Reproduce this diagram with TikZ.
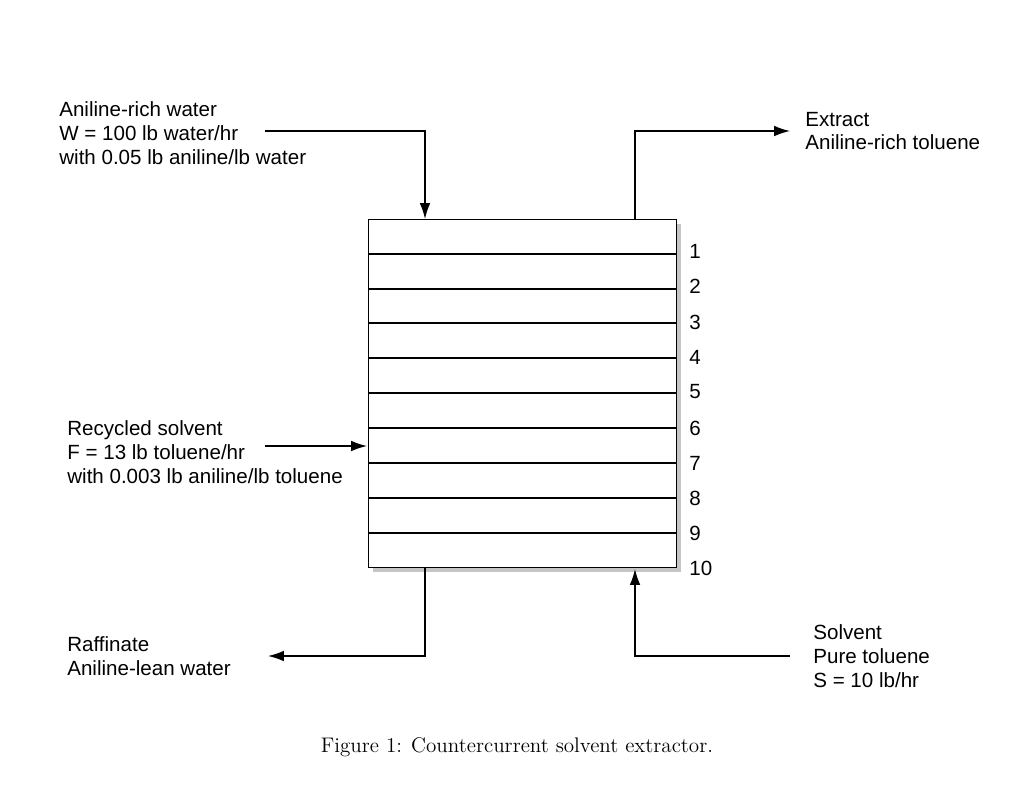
\documentclass[tikz,border=0pt]{standalone}
\usepackage{fontspec}
\newfontfamily\hv{Liberation Sans}
\usetikzlibrary{shadows,arrows.meta}
\begin{document}
\begin{tikzpicture}[x=0.02cm,y=-0.02cm,
  lbl/.style={font=\hv\fontsize{11.7}{13.6}\selectfont,align=left,anchor=west,inner sep=0pt},
  num/.style={font=\hv\fontsize{11.7}{12}\selectfont,anchor=west,inner sep=0pt},
  flow/.style={-{Latex[length=9pt,width=6pt]},line width=0.8pt}]
\useasboundingbox (0,0) rectangle (1024,791);
\node[draw,line width=0.8pt,fill=white,minimum width=308*0.02cm,minimum height=348*0.02cm,inner sep=0pt,anchor=north west,
  drop shadow={shadow xshift=2.5pt,shadow yshift=-2.5pt,fill=black!45}] (box) at (368,219) {};
\foreach \y in {254,289,323,358,393,428,463,498,533}{\draw[line width=0.8pt] (368,\y) -- (676,\y);}
\foreach \n/\y in {1/251,2/286,3/322,4/357,5/392,6/428,7/463,8/498,9/533,10/568}{\node[num] (n\n) at (689,\y) {\n};}
\node[lbl] (w) at (59,133) {Aniline-rich water\\W = 100 lb water/hr\\with 0.05 lb aniline/lb water};
\node[lbl] (e) at (805,131) {Extract\\Aniline-rich toluene};
\node[lbl] (f) at (67,452) {Recycled solvent\\F = 13 lb toluene/hr\\with 0.003 lb aniline/lb toluene};
\node[lbl] (r) at (67,656) {Raffinate\\Aniline-lean water};
\node[lbl] (s) at (813,656) {Solvent\\Pure toluene\\S = 10 lb/hr};
\coordinate (a1) at (265,131); \coordinate (a2) at (425,219);
\draw[flow] (a1) -| (a2);
\coordinate (b1) at (635,219); \coordinate (b2) at (790,131);
\draw[flow] (b1) |- (b2);
\coordinate (c1) at (265,446); \coordinate (c2) at (367,446);
\draw[flow] (c1) -- (c2);
\coordinate (d1) at (425,568); \coordinate (d2) at (268,656);
\draw[flow] (d1) |- (d2);
\coordinate (g1) at (790,656); \coordinate (g2) at (635,569);
\draw[flow] (g1) -| (g2);
\node[font=\fontsize{12}{14}\selectfont] (cap) at (517,747) {Figure 1: Countercurrent solvent extractor.};
\end{tikzpicture}
\end{document}
